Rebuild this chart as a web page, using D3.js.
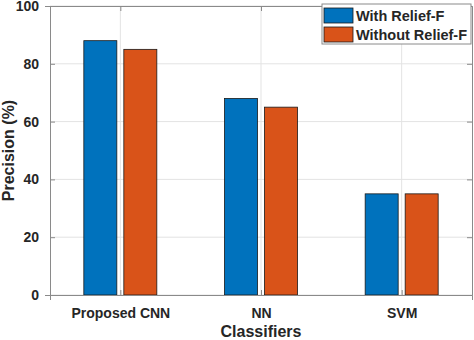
<!DOCTYPE html>
<html><head><meta charset="utf-8">
<script src="https://cdn.jsdelivr.net/npm/d3@7"></script>
<style>body{margin:0;background:#fff}text{font-family:"Liberation Sans",Arial,sans-serif;font-weight:bold;fill:#262626}</style>
</head><body>
<script>
const categories = ["Proposed CNN", "NN", "SVM"];
const seriesNames = ["With Relief-F", "Without Relief-F"];
const withRelief = [88, 68, 35];
const withoutRelief = [85, 65, 35];
const yTicks = [0, 20, 40, 60, 80, 100];
const colors = ["#0072BD", "#D95319"];

const W = 474, H = 340;
const m = {l: 50, r: 2, t: 6, b: 45};
const svg = d3.select("body").append("svg").attr("width", W).attr("height", H);
const x = d3.scaleLinear().domain([0.5, categories.length + 0.5]).range([m.l, W - m.r]);
const y = d3.scaleLinear().domain([0, 100]).range([H - m.b, m.t]);
const bw = 33, off = 20;

// grid
const g = svg.append("g");
g.selectAll(".hg").data(yTicks).join("line")
  .attr("x1", m.l).attr("x2", W - m.r).attr("y1", d => y(d)).attr("y2", d => y(d))
  .attr("stroke", "#e3e3e3").attr("stroke-width", 1);
g.selectAll(".vg").data(categories).join("line")
  .attr("x1", (d, i) => x(i + 1)).attr("x2", (d, i) => x(i + 1))
  .attr("y1", m.t).attr("y2", H - m.b)
  .attr("stroke", "#e3e3e3").attr("stroke-width", 1);

// bars
const series = [withRelief, withoutRelief];
series.forEach((vals, s) => {
  svg.append("g").selectAll("rect").data(vals).join("rect")
    .attr("x", (d, i) => x(i + 1) + (s === 0 ? -off : off) - bw / 2)
    .attr("width", bw)
    .attr("y", d => y(d))
    .attr("height", d => y(0) - y(d))
    .attr("fill", colors[s]).attr("stroke", "#1a1a1a").attr("stroke-width", 0.8);
});

// axes
const yAxis = d3.axisLeft(y).tickValues(yTicks).tickSize(5).tickPadding(6);
const ya = svg.append("g").attr("transform", `translate(${m.l},0)`).call(yAxis);
ya.selectAll("text").style("font-size", "14px");
const yAxisR = d3.axisRight(y).tickValues(yTicks).tickSize(-5).tickFormat("");
svg.append("g").attr("transform", `translate(${W - m.r},0)`).call(yAxisR);
const xAxis = d3.axisBottom(x).tickValues(categories.map((c, i) => i + 1))
  .tickFormat((d) => categories[d - 1]).tickSize(5).tickPadding(8);
const xa = svg.append("g").attr("transform", `translate(0,${H - m.b})`).call(xAxis);
xa.selectAll("text").style("font-size", "14px");
const xAxisT = d3.axisTop(x).tickValues(categories.map((c, i) => i + 1)).tickSize(-5).tickFormat("");
svg.append("g").attr("transform", `translate(0,${m.t})`).call(xAxisT);
svg.selectAll(".domain").attr("stroke", "#8a8a8a");
svg.selectAll(".tick line").attr("stroke", "#8a8a8a");
svg.selectAll(".tick text").attr("fill", "#262626");
ya.selectAll(".tick line").attr("x2", 5);
xa.selectAll(".tick line").attr("y2", -5);

// labels
svg.append("text").attr("x", (m.l + W - m.r) / 2).attr("y", 337)
  .attr("text-anchor", "middle").style("font-size", "16px").text("Classifiers");
svg.append("text").attr("transform", `translate(14,${(m.t + H - m.b) / 2}) rotate(-90)`)
  .attr("text-anchor", "middle").style("font-size", "16px").text("Precision (%)");

// legend
const lg = svg.append("g").attr("transform", "translate(322,4)");
lg.append("rect").attr("width", 149).attr("height", 40).attr("fill", "#fff").attr("stroke", "#8a8a8a");
seriesNames.forEach((n, i) => {
  lg.append("rect").attr("x", 2).attr("y", 4 + i * 19).attr("width", 29).attr("height", 15)
    .attr("fill", colors[i]).attr("stroke", "#1a1a1a").attr("stroke-width", 0.8);
  lg.append("text").attr("x", 34).attr("y", 17 + i * 19).style("font-size", "14.5px").text(n);
});
</script>
</body></html>
